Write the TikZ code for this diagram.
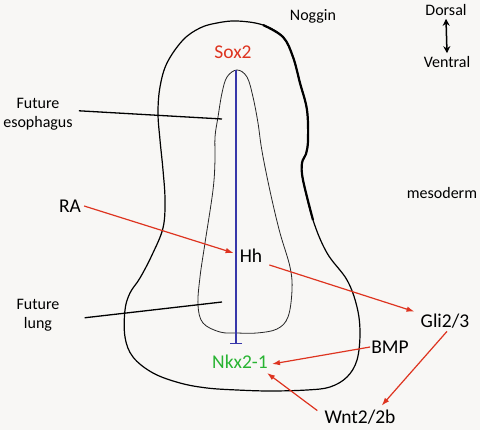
\documentclass[tikz,border=0pt]{standalone}
\usepackage{fontspec}
\setmainfont{Carlito}
\usetikzlibrary{arrows.meta,calc}
\definecolor{bg}{RGB}{248,247,245}
\definecolor{redA}{RGB}{222,52,32}
\definecolor{greenA}{RGB}{40,180,50}
\definecolor{blueA}{RGB}{55,55,170}
\tikzset{
  big/.style={font=\fontsize{19.5}{21}\selectfont, inner sep=1pt},
  small/.style={font=\fontsize{16}{19}\selectfont, inner sep=1pt, align=center},
  redarrow/.style={draw=redA, line width=1.2pt, -{Latex[length=8pt,width=5.5pt]}},
  pointer/.style={draw=black, line width=1.3pt},
  outline/.style={draw=black, line width=1.2pt},
  inner/.style={draw=black!85, line width=0.8pt},
  inhib/.style={draw=blueA, line width=1.2pt, -{Bar[width=12pt]}}
}
\begin{document}
\begin{tikzpicture}[x=1pt,y=-1pt]
\fill[bg] (0,0) rectangle (480,430);
\useasboundingbox (0,0) rectangle (480,430);
% outer outline
\draw[outline] plot[smooth cycle, tension=0.6] coordinates {
 (217,23) (237,21) (263,25) (283,37) (293,57) (300,83) (307,110) (308,140)
 (306,154) (302,163) (303,180) (313,220) (327,253) (347,280) (357,307)
 (360,333) (357,360) (347,377) (330,387) (307,390) (270,391) (237,390)
 (207,388) (180,383) (153,373) (133,357) (125,337) (125,310) (130,293)
 (140,278) (152,255) (163,228) (165,200) (163,170) (160,140) (158,113)
 (160,87) (167,63) (183,40) (200,28)};
\draw[draw=black, line width=2.2pt] plot[smooth, tension=0.6] coordinates {
 (263,25) (283,37) (293,57) (300,83) (307,110) (308,140) (306,154) (302,163) (303,180) (313,220)};
% inner outline
\draw[inner] plot[smooth cycle, tension=0.6] coordinates {
 (237,70) (247,77) (253,97) (258,123) (261,145) (265,167) (272,200) (280,233)
 (290,267) (292,290) (288,317) (277,329) (257,333) (237,333) (220,332)
 (203,323) (198,305) (200,277) (205,243) (213,190) (215,160) (215,137)
 (218,117) (222,93) (227,77)};
% labels
\node[big, text=redA] (sox) at (233,52) {Sox2};
\node[small] (nog) at (313,16) {Noggin};
\node[small] (dor) at (446,10) {Dorsal};
\node[small] (ven) at (447,62) {Ventral};
\node[small] (meso) at (442,193) {mesoderm};
\node[small] (eso) at (38,114) {Future\\esophagus};
\node[small] (lung) at (38,315) {Future\\lung};
\node[big] (ra) at (70,206) {RA};
\node[big] (hh) at (251,256) {Hh};
\node[big] (gli) at (445,321) {Gli2/3};
\node[big] (bmp) at (390,347) {BMP};
\node[big, text=greenA] (nkx) at (240,362) {Nkx2-1};
\node[big] (wnt) at (360,417) {Wnt2/2b};
% coordinates for free ends
\coordinate (esoend) at (222,119);
\coordinate (lungend) at (222,302);
\coordinate (btop) at (236,70);
\coordinate (bbot) at (236,344);
% connectors
\draw[pointer] ($(eso.north east)+(5,14)$) -- (esoend);
\draw[pointer] ($(lung.north east)+(24,20)$) -- (lungend);
\draw[inhib] (btop) -- (bbot);
\draw[redarrow] ($(ra.east)+(2,0)$) -- ($(hh.west)+(-5,-3)$);
\draw[redarrow] ($(hh.south east)+(6,1)$) -- ($(gli.north west)+(-5,-1)$);
\draw[redarrow] (bmp.west) -- ($(nkx.east)+(3,2)$);
\draw[redarrow] ($(gli.south)+(2,2)$) -- ($(wnt.north east)+(-15,-3)$);
\draw[redarrow] ($(wnt.north west)+(-6,2)$) -- ($(nkx.south east)+(-2,3)$);
\draw[draw=black, line width=1.5pt, {Stealth[length=7pt,width=7pt]}-{Stealth[length=7pt,width=7pt]}] ($(dor.south)+(0,2)$) -- ($(ven.north)+(0,-2)$);
\end{tikzpicture}
\end{document}
